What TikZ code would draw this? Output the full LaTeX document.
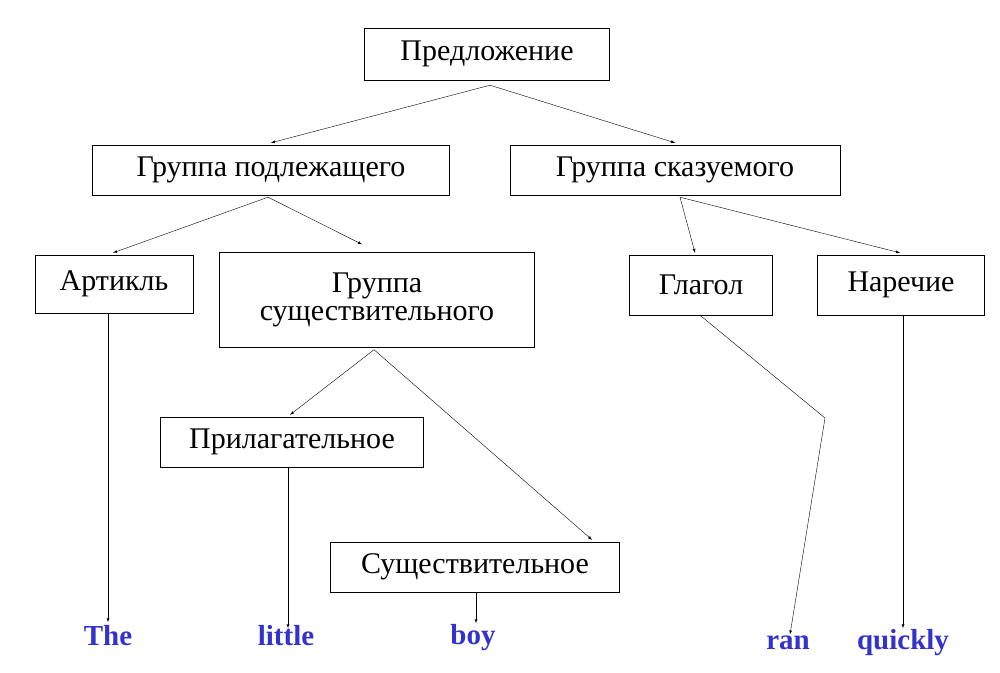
\documentclass[tikz,border=0pt]{standalone}
\usepackage{fontspec}
\setmainfont{Liberation Serif}
\usetikzlibrary{arrows}
\definecolor{wordblue}{RGB}{51,51,204}
\tikzstyle{box} = [rectangle, draw=black, inner sep=0pt, text centered, font=\fontsize{30}{32}\selectfont]
\tikzstyle{word} = [rectangle, text=wordblue, font=\fontsize{29}{30}\selectfont\bfseries]
\tikzstyle{arrow} = [->,>=latex]

\begin{document}
\begin{tikzpicture}[x=1pt,y=-1pt]
        \useasboundingbox (0,0) rectangle (1000,672);
        \node[box, minimum width=245, minimum height=52] (s) at (487,54) {Предложение};
        \node[box, minimum width=357, minimum height=50] (np) at (271,170) {Группа подлежащего};
        \node[box, minimum width=330, minimum height=50] (vp) at (675,170) {Группа сказуемого};
        \node[box, minimum width=158, minimum height=58] (art) at (114,284) {Артикль};
        \node[box, minimum width=315, minimum height=95, align=center] (ng) at (377,300) {Группа\\[-4pt]существительного};
        \node[box, minimum width=143, minimum height=60] (v) at (701,285) {Глагол};
        \node[box, minimum width=167, minimum height=60] (adv) at (901,285) {Наречие};
        \node[box, minimum width=263, minimum height=50] (adj) at (292,442) {Прилагательное};
        \node[box, minimum width=289, minimum height=50] (n) at (475,567) {Существительное};

        \node[word] (the) at (108,636) {The};
        \node[word] (little) at (286,636) {little};
        \node[word] (boy) at (473,638) {boy};
        \node[word] (ran) at (788,643) {ran};
        \node[word] (quickly) at (903,643) {quickly};
        \coordinate (bend) at (825,418);

        \draw[arrow] ([xshift=3pt,yshift=-5pt]s.south) -- ([yshift=2pt]np.north);
        \draw[arrow] ([xshift=3pt,yshift=-5pt]s.south) -- ([yshift=2pt]vp.north);
        \draw[arrow] ([xshift=-3pt,yshift=-2pt]np.south) -- ([xshift=-1pt,yshift=2pt]art.north);
        \draw[arrow] ([xshift=-3pt,yshift=-2pt]np.south) -- ([xshift=-15pt,yshift=8pt]ng.north);
        \draw[arrow] ([xshift=5pt,yshift=-2pt]vp.south) -- ([xshift=-6pt,yshift=2pt]v.north);
        \draw[arrow] ([xshift=5pt,yshift=-2pt]vp.south) -- ([xshift=-1pt,yshift=2pt]adv.north);
        \draw[arrow] ([xshift=-6pt]art.south) -- (the.north);
        \draw[arrow] ([xshift=-3pt,yshift=-2pt]ng.south) -- ([xshift=-2pt,yshift=2pt]adj.north);
        \draw[arrow] ([xshift=-3pt,yshift=-2pt]ng.south) -- ([xshift=117pt,yshift=2pt]n.north);
        \draw[arrow] ([xshift=-4pt]adj.south) -- ([xshift=2pt,yshift=-6pt]little.north);
        \draw[arrow] ([xshift=1pt]n.south) -- ([xshift=3pt,yshift=-2pt]boy.north);
        \draw[arrow] ([xshift=-1pt]v.south) -- (bend) -- ([xshift=2pt,yshift=-2pt]ran.north);
        \draw[arrow] ([xshift=2pt]adv.south) -- ([yshift=-2pt]quickly.north);
        \end{tikzpicture}
\end{document}
